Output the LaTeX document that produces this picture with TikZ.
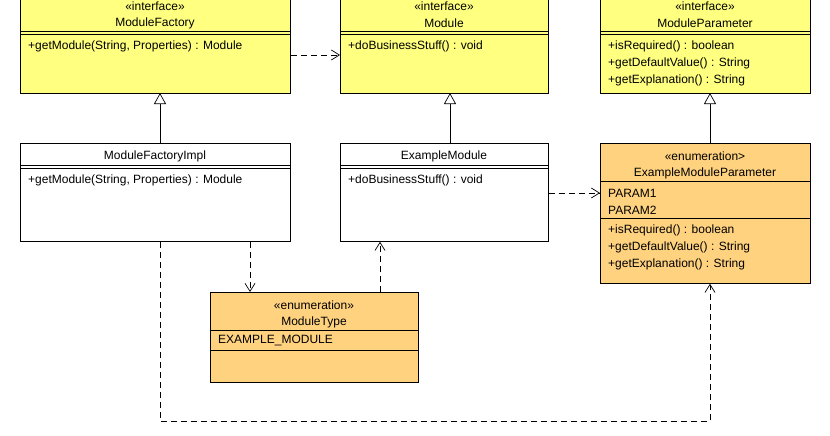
\documentclass[tikz,border=0pt]{standalone}
\usepackage{fontspec}
\setmainfont{Liberation Sans}
\usetikzlibrary{arrows.meta,calc}
\definecolor{ify}{RGB}{255,255,128}
\definecolor{eno}{RGB}{255,210,128}
\begin{document}
\begin{tikzpicture}[x=1pt,y=-1pt,
  box/.style={draw=black,line width=0.8pt,rectangle,inner sep=0pt,anchor=north west},
  txt/.style={inner sep=0pt,font=\fontsize{12}{14}\selectfont},
  gen/.style={-{Triangle[open,length=11pt,width=12pt]},line width=0.7pt},
  dep/.style={-{Straight Barb[length=8pt,width=10pt]},dash pattern=on 6pt off 4pt,line width=0.7pt}]
\useasboundingbox (0,0) rectangle (830,436);
% boxes
\node[box,fill=ify,minimum width=270pt,minimum height=94pt] (mf) at (20,-1) {};
\node[box,fill=ify,minimum width=208pt,minimum height=94pt] (m) at (340,-1) {};
\node[box,fill=ify,minimum width=210pt,minimum height=94pt] (mp) at (600,-1) {};
\node[box,fill=white,minimum width=270pt,minimum height=98pt] (mfi) at (20,143) {};
\node[box,fill=white,minimum width=208pt,minimum height=98pt] (em) at (340,143) {};
\node[box,fill=eno,minimum width=210pt,minimum height=140pt] (emp) at (600,143) {};
\node[box,fill=eno,minimum width=208pt,minimum height=90pt] (mt) at (210,292) {};
% compartment lines
\foreach \b/\y in {mf/32,m/32,mp/32}{
  \draw[line width=0.8pt] (\b.west |- 0,31) -- (\b.east |- 0,31);
  \draw[line width=0.8pt] (\b.west |- 0,34) -- (\b.east |- 0,34);}
\foreach \b in {mfi,em}{
  \draw[line width=0.8pt] (\b.west |- 0,165) -- (\b.east |- 0,165);
  \draw[line width=0.8pt] (\b.west |- 0,168) -- (\b.east |- 0,168);}
\draw[line width=0.8pt] (emp.west |- 0,181) -- (emp.east |- 0,181);
\draw[line width=0.8pt] (emp.west |- 0,218) -- (emp.east |- 0,218);
\draw[line width=0.8pt] (mt.west |- 0,330) -- (mt.east |- 0,330);
\draw[line width=0.8pt] (mt.west |- 0,350) -- (mt.east |- 0,350);
% texts
\node[txt] (t1) at (155,6) {«interface»};
\node[txt] (t2) at (155,23) {ModuleFactory};
\node[txt,anchor=west] (t3) at (28,46) {+getModule(String, Properties) : Module};
\node[txt] (t4) at (444,6) {«interface»};
\node[txt] (t5) at (444,23) {Module};
\node[txt,anchor=west] (t6) at (348,46) {+doBusinessStuff() : void};
\node[txt] (t7) at (705,6) {«interface»};
\node[txt] (t8) at (705,23) {ModuleParameter};
\node[txt,anchor=west] (t9) at (608,46) {+isRequired() : boolean};
\node[txt,anchor=west] (t10) at (608,63) {+getDefaultValue() : String};
\node[txt,anchor=west] (t11) at (608,80) {+getExplanation() : String};
\node[txt] (t12) at (155,156) {ModuleFactoryImpl};
\node[txt,anchor=west] (t13) at (28,180) {+getModule(String, Properties) : Module};
\node[txt] (t14) at (444,156) {ExampleModule};
\node[txt,anchor=west] (t15) at (348,180) {+doBusinessStuff() : void};
\node[txt] (t16) at (705,156) {«enumeration>};
\node[txt] (t17) at (705,173) {ExampleModuleParameter};
\node[txt,anchor=west] (t18) at (608,193) {PARAM1};
\node[txt,anchor=west] (t19) at (608,210) {PARAM2};
\node[txt,anchor=west] (t20) at (608,230) {+isRequired() : boolean};
\node[txt,anchor=west] (t21) at (608,247) {+getDefaultValue() : String};
\node[txt,anchor=west] (t22) at (608,264) {+getExplanation() : String};
\node[txt] (t23) at (314,305) {«enumeration»};
\node[txt] (t24) at (314,322) {ModuleType};
\node[txt,anchor=west] (t25) at (218,341) {EXAMPLE\_MODULE};
% connectors
\coordinate (mfs) at (160,93);
\coordinate (ms) at (450,93);
\coordinate (mps) at (710,93);
\draw[gen] (mfi.north -| mfs) -- (mfs);
\draw[gen] (em.north -| ms) -- (ms);
\draw[gen] (emp.north -| mps) -- (mps);
\draw[dep] (mf.east |- 0,55) -- (m.west |- 0,55);
\draw[dep] (em.east |- 0,193) -- (emp.west |- 0,193);
\draw[dep] (mfi.south -| 250,0) -- (mt.north -| 250,0);
\draw[dep] (mt.north -| 380,0) -- (em.south -| 380,0);
\coordinate (c1) at (160,421);
\coordinate (c2) at (710,421);
\draw[dep] (mfi.south -| c1) -- (c1) -- (c2) -- (emp.south -| c2);
\end{tikzpicture}
\end{document}
